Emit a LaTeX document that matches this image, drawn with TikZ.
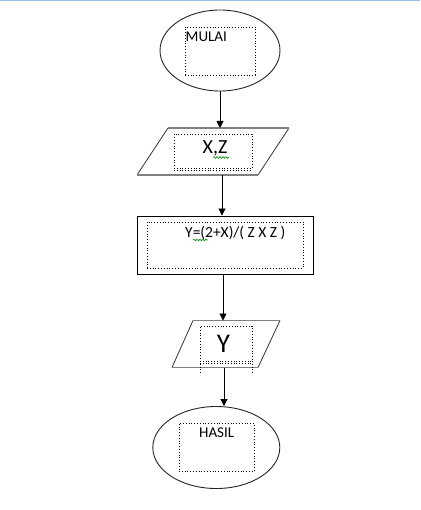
\documentclass[tikz,border=0pt]{standalone}
\usepackage{fontspec}
\setmainfont{Carlito}
\usetikzlibrary{shapes.geometric,arrows.meta,decorations.pathmorphing}
\begin{document}
\begin{tikzpicture}[x=1pt,y=-1pt,
  term/.style={ellipse,draw=black!85,line width=0.9pt,inner sep=0pt},
  procbox/.style={rectangle,draw=black,line width=0.9pt,inner sep=0pt},
  dotbox/.style={rectangle,draw=black,dotted,line width=0.8pt,inner sep=0pt},
  dotline/.style={draw=black,dotted,line width=0.8pt},
  arr/.style={draw=black,line width=0.9pt,-{Triangle[length=7pt,width=7pt]}},
  paraedge/.style={draw=black!50,line width=1.8pt},
  paraside/.style={draw=black!80,line width=0.8pt},
  squig/.style={draw=green!55!black,line width=0.6pt,decorate,decoration={snake,amplitude=0.9pt,segment length=3pt}},
  lbl/.style={inner sep=0pt,text=black,font=\fontsize{15}{15}\selectfont}
]
\useasboundingbox (0,0) rectangle (420,510);
\fill[white] (0,0) rectangle (420,510);
\draw[color={rgb,255:red,155;green,190;blue,230},line width=1.2pt] (0,0.6) -- (420,0.6);

% MULAI
\node[term,minimum width=120pt,minimum height=81pt] (start) at (220,50.5) {};
\node[dotbox,minimum width=70pt,minimum height=48pt] (startbox) at (220,51) {};
\node[lbl,anchor=base west] (mulai) at (185.5,41.5) {MULAI};

% input X,Z
\coordinate (p1a) at (168,128);
\coordinate (p1b) at (289,128);
\coordinate (p1c) at (258,175);
\coordinate (p1d) at (137,175);
\coordinate (p1top) at (220,128);
\coordinate (p1bot) at (222,175);
\draw[paraside] (p1a) -- (p1d) (p1b) -- (p1c);
\draw[paraedge] (p1a) -- (p1b) (p1d) -- (p1c);
\node[dotbox,minimum width=78pt,minimum height=34pt] (inbox) at (213,151) {};
\draw[dotline] (174,170) -- (252,170);
\node[inner sep=0pt,anchor=base,font=\fontsize{20}{20}\selectfont] (xz) at (215,154) {X,Z};
\draw[squig] (213,157.5) -- (229,157.5);

% process
\node[procbox,minimum width=176pt,minimum height=58pt] (proc) at (225,245) {};
\node[dotbox,minimum width=156pt,minimum height=46pt] (procdots) at (225,245) {};
\node[lbl,anchor=base west,font=\fontsize{15.5}{15.5}\selectfont] (formula) at (185,237.5) {Y=(2+X)/( Z X Z )};
\draw[squig] (193,240) -- (208,240);

% output Y
\coordinate (p2a) at (193,320.5);
\coordinate (p2b) at (280,320.5);
\coordinate (p2c) at (258,367.5);
\coordinate (p2d) at (172,367.5);
\coordinate (p2top) at (223,320.5);
\coordinate (p2bot) at (224,367.5);
\draw[paraside] (p2a) -- (p2d) (p2b) -- (p2c);
\draw[paraedge] (p2a) -- (p2b) (p2d) -- (p2c);
\node[dotbox,minimum width=52pt,minimum height=35pt] (outbox) at (226,343.5) {};
\draw[dotline] (200,363) -- (252,363);
\draw[dotline] (200,361) -- (200,375) (252,361) -- (252,375);
\node[inner sep=0pt,anchor=base,font=\fontsize{27}{27}\selectfont] (yout) at (223.5,352) {Y};

% HASIL
\node[term,minimum width=127pt,minimum height=82pt] (stop) at (216.3,447.5) {};
\node[dotbox,minimum width=75pt,minimum height=48pt] (stopbox) at (216.5,447) {};
\node[lbl,anchor=base west] (hasil) at (199,437) {HASIL};

% connectors
\draw[arr] (start.south) -- (p1top);
\draw[arr] (p1bot) -- (proc.north -| p1bot);
\draw[arr] (proc.south -| p2top) -- (p2top);
\draw[arr] (p2bot) -- (p2bot |- stop.north);
\end{tikzpicture}
\end{document}
